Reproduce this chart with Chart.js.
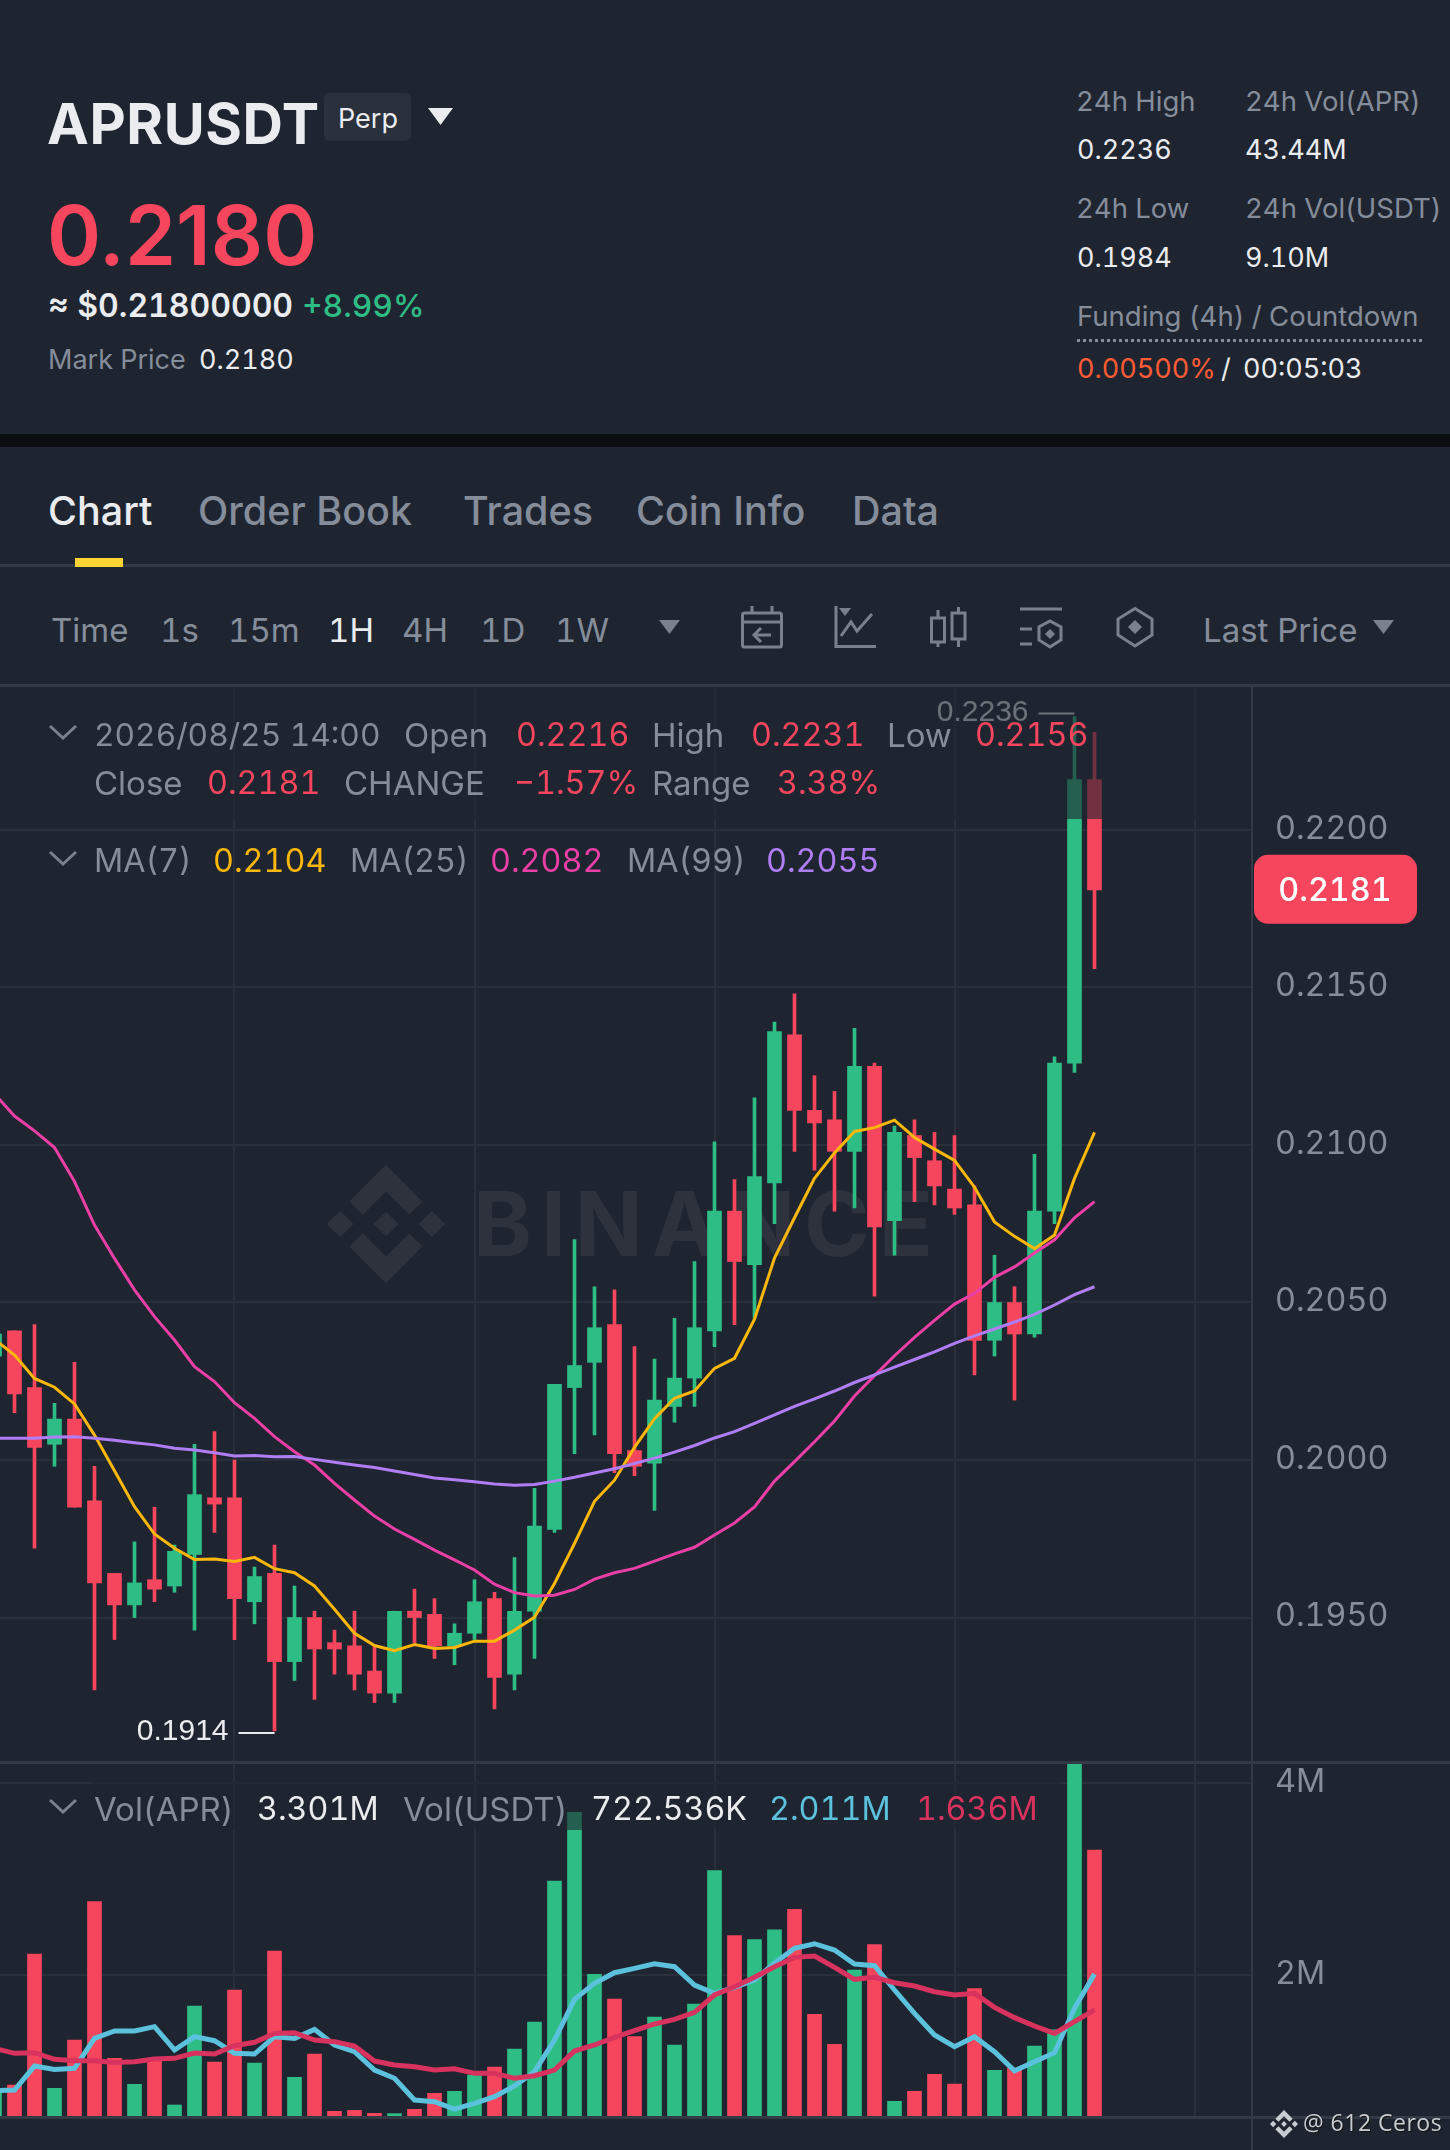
<!DOCTYPE html>
<html>
<head>
<meta charset="utf-8">
<title>APRUSDT</title>
<script src="https://cdn.jsdelivr.net/npm/chart.js@4/dist/chart.umd.min.js"></script>
<style>
  html, body { margin: 0; padding: 0; background: #1f2530; }
  body { position: relative; width: 1450px; height: 2150px; overflow: hidden; font-family: Inter, sans-serif; font-variant-numeric: tabular-nums; }
  .t { position: absolute; white-space: nowrap; line-height: 1; }
  .s28 { font-size: 27.5px; }
  .v27 { font-size: 27px; }
  .s32 { font-size: 33px; }
  .s38 { font-size: 39.5px; font-weight: 500; }
  .n { font-size: 32.3px; }
  .gray { color: #858d9b; }
  .white { color: #eaecef; }
  .red { color: #f6465d; }
  .green { color: #2ebd85; }
  .line { position: absolute; background: #333a46; }
  canvas { position: absolute; left: 0; }
  svg { position: absolute; overflow: visible; }
  .veil { position: absolute; background: rgba(31, 37, 48, 0.62); }
  .ic { fill: none; stroke: #79818f; stroke-width: 3; }
</style>
</head>
<body>

<!-- header -->
<div class="t white" style="left:47px;top:96px;font-size:56px;font-weight:700;letter-spacing:0.6px">APRUSDT</div>
<div style="position:absolute;left:324px;top:93px;width:87px;height:48px;background:#2a303c;border-radius:6px"></div>
<div class="t white" style="left:338px;top:105px;font-size:27px">Perp</div>
<svg style="left:428px;top:108px" width="26" height="18"><path d="M0 0H25L12.5 17Z" fill="#eaecef"/></svg>
<div class="t red" style="left:47px;top:195px;font-size:82px;font-weight:600;font-variant-numeric:normal">0.2180</div>
<div class="t white" style="left:48px;top:290px;font-size:32px;font-weight:600">≈ $0.21800000</div>
<div class="t green" style="left:302px;top:290px;font-size:31.8px;font-weight:500">+8.99%</div>
<div class="t gray" style="left:48px;top:346px;font-size:27px">Mark Price</div>
<div class="t v27 white" style="left:199px;top:346px">0.2180</div>

<div class="t s28 gray" style="left:1076px;top:88px">24h High</div>
<div class="t s28 gray" style="left:1245px;top:88px">24h Vol(APR)</div>
<div class="t v27 white" style="left:1077px;top:136px">0.2236</div>
<div class="t v27 white" style="left:1245px;top:136px">43.44M</div>
<div class="t s28 gray" style="left:1076px;top:195px">24h Low</div>
<div class="t s28 gray" style="left:1245px;top:195px">24h Vol(USDT)</div>
<div class="t v27 white" style="left:1077px;top:244px">0.1984</div>
<div class="t v27 white" style="left:1245px;top:244px">9.10M</div>
<div class="t s28 gray" style="left:1077px;top:303px">Funding (4h) / Countdown</div>
<div style="position:absolute;left:1077px;top:339px;width:345px;border-top:3px dotted #858d9b"></div>
<div class="t v27" style="left:1077px;top:355px;color:#ff5c36">0.00500%</div>
<div class="t v27 white" style="left:1221px;top:355px">/</div>
<div class="t v27 white" style="left:1243px;top:355px">00:05:03</div>

<div style="position:absolute;left:0;top:434px;width:1450px;height:13px;background:#0b0e11"></div>

<!-- tabs -->
<div class="t s38 white" style="left:48px;top:492px">Chart</div>
<div class="t s38 gray" style="left:198px;top:492px">Order Book</div>
<div class="t s38 gray" style="left:463px;top:492px">Trades</div>
<div class="t s38 gray" style="left:636px;top:492px">Coin Info</div>
<div class="t s38 gray" style="left:852px;top:492px">Data</div>
<div class="line" style="left:0;top:564px;width:1450px;height:3px"></div>
<div style="position:absolute;left:75px;top:558px;width:48px;height:9px;background:#fcd535"></div>

<!-- interval row -->
<div class="t s32 gray" style="left:51px;top:614px">Time</div>
<div class="t s32 gray" style="left:160px;top:614px">1s</div>
<div class="t s32 gray" style="left:228px;top:614px">15m</div>
<div class="t s32 white" style="left:328px;top:614px">1H</div>
<div class="t s32 gray" style="left:402px;top:614px">4H</div>
<div class="t s32 gray" style="left:480px;top:614px">1D</div>
<div class="t s32 gray" style="left:555px;top:614px">1W</div>
<svg style="left:659px;top:620px" width="22" height="15"><path d="M0 0H21L10.5 14Z" fill="#79818f"/></svg>
<svg class="ic" style="left:741px;top:606px" width="42" height="42"><rect x="1.5" y="7" width="39" height="34" rx="2"/><path d="M1.5 16H40.5M11 0V7M31 0V7M30 29H14M20 22L13 29L20 36"/></svg>
<svg class="ic" style="left:834px;top:606px" width="42" height="42"><path d="M2 0V40.5H42M7 30L17 16L23 25L38 8"/><path d="M5 2H17L11 10Z" fill="#79818f" stroke="none"/></svg>
<svg class="ic" style="left:930px;top:607px" width="38" height="40"><rect x="1.5" y="11" width="13" height="24"/><rect x="22" y="6" width="13" height="26"/><path d="M8 3V11M8 35V40M28.5 0V6M28.5 32V40"/></svg>
<svg class="ic" style="left:1020px;top:607px" width="42" height="42"><path d="M0 2H42M0 22H12M0 37H12M30 14L41 20V33L30 40L19 33V20Z"/><path d="M30 22L35 27L30 32L25 27Z" fill="#79818f" stroke="none"/></svg>
<svg class="ic" style="left:1116px;top:607px" width="38" height="40"><path d="M19 1.5L36 12V28L19 39L2 28V12Z"/><path d="M19 13L26 20L19 27L12 20Z" fill="#79818f" stroke="none"/></svg>
<div class="t s32 gray" style="left:1203px;top:614px">Last Price</div>
<svg style="left:1373px;top:620px" width="22" height="15"><path d="M0 0H21L10.5 14Z" fill="#79818f"/></svg>
<div class="line" style="left:0;top:684px;width:1450px;height:3px"></div>

<!-- watermark, behind the candles -->
<svg style="left:327px;top:1165px" width="118" height="118" viewBox="0 0 24 24"><path fill="#2e323d" d="M12 9.5L14.5 12L12 14.5L9.5 12ZM7.3 10.1L12 5.4L16.7 10.1L19.4 7.4L12 0L4.6 7.4ZM7.3 13.9L12 18.6L16.7 13.9L19.4 16.6L12 24L4.6 16.6ZM2.7 9.3L5.4 12L2.7 14.7L0 12ZM21.3 9.3L24 12L21.3 14.7L18.6 12Z"/></svg>
<div class="t" style="left:473px;top:1179px;font-size:89px;font-weight:700;letter-spacing:9px;color:#2e323d">BINANCE</div>

<canvas id="priceChart" width="1450" height="1076" style="top:686px"></canvas>
<canvas id="volChart" width="1450" height="362" style="top:1755px"></canvas>

<div class="line" style="left:0;top:1761px;width:1450px;height:3px"></div>
<div class="line" style="left:0;top:2116px;width:1450px;height:3px"></div>
<div class="line" style="left:1251px;top:686px;width:2px;height:1464px"></div>

<!-- legend over the price pane -->
<div class="veil" style="left:0;top:687px;width:1251px;height:132px"></div>
<svg style="left:49px;top:725px" width="28" height="15"><path d="M1 1L14 13L27 1" fill="none" stroke="#79818f" stroke-width="3"/></svg>
<div class="t gray" style="left:94px;top:719px;font-size:31.7px">2026/08/25 14:00</div>
<div class="t s32 gray" style="left:404px;top:719px">Open</div>
<div class="t n red" style="left:516px;top:719px">0.2216</div>
<div class="t s32 gray" style="left:652px;top:719px">High</div>
<div class="t n red" style="left:751px;top:719px">0.2231</div>
<div class="t s32 gray" style="left:887px;top:719px">Low</div>
<div class="t n red" style="left:975px;top:719px">0.2156</div>
<div class="t s32 gray" style="left:94px;top:767px">Close</div>
<div class="t n red" style="left:207px;top:767px">0.2181</div>
<div class="t s32 gray" style="left:344px;top:767px">CHANGE</div>
<div class="t n red" style="left:514px;top:767px">−1.57%</div>
<div class="t s32 gray" style="left:652px;top:767px">Range</div>
<div class="t n red" style="left:777px;top:767px">3.38%</div>
<svg style="left:49px;top:851px" width="28" height="15"><path d="M1 1L14 13L27 1" fill="none" stroke="#79818f" stroke-width="3"/></svg>
<div class="t n gray" style="left:94px;top:845px">MA(7)</div>
<div class="t n" style="left:213px;top:845px;color:#fcb70b">0.2104</div>
<div class="t n gray" style="left:350px;top:845px">MA(25)</div>
<div class="t n" style="left:490px;top:845px;color:#e93fa6">0.2082</div>
<div class="t n gray" style="left:627px;top:845px">MA(99)</div>
<div class="t n" style="left:766px;top:845px;color:#b07df5">0.2055</div>

<!-- legend over the volume pane -->
<div class="veil" style="left:92px;top:1782px;width:968px;height:48px"></div>
<svg style="left:49px;top:1799px" width="28" height="15"><path d="M1 1L14 13L27 1" fill="none" stroke="#79818f" stroke-width="3"/></svg>
<div class="t s32 gray" style="left:94px;top:1793px">Vol(APR)</div>
<div class="t n white" style="left:257px;top:1793px">3.301M</div>
<div class="t s32 gray" style="left:403px;top:1793px">Vol(USDT)</div>
<div class="t n white" style="left:591px;top:1793px">722.536K</div>
<div class="t n" style="left:769px;top:1793px;color:#5bc1dc">2.011M</div>
<div class="t n" style="left:916px;top:1793px;color:#d8335e">1.636M</div>

<!-- corner tag -->
<svg style="left:1270px;top:2110px" width="28" height="28" viewBox="0 0 24 24"><path fill="#c9cdd3" d="M12 9.5L14.5 12L12 14.5L9.5 12ZM7.3 10.1L12 5.4L16.7 10.1L19.4 7.4L12 0L4.6 7.4ZM7.3 13.9L12 18.6L16.7 13.9L19.4 16.6L12 24L4.6 16.6ZM2.7 9.3L5.4 12L2.7 14.7L0 12ZM21.3 9.3L24 12L21.3 14.7L18.6 12Z"/></svg>
<div class="t" style="left:1303px;top:2111px;font-family:'Open Sans',sans-serif;font-size:23px;letter-spacing:0.5px;color:#c9cdd3;text-shadow:1px 1px 1px #111">@ 612 Ceros</div>

<script>
const candleIndex = [0,1,2,3,4,5,6,7,8,9,10,11,12,13,14,15,16,17,18,19,20,21,22,23,24,25,26,27,
  28,29,30,31,32,33,34,35,36,37,38,39,40,41,42,43,44,45,46,47,48,49,50,51,52,53,54,55];
const candleOpen = [.2033,.2041,.2023,.2005,.2013,.1987,.1964,.1954,.1962,.1960,.1970,.1988,.1988,.1955,
  .1964,.1936,.1950,.1942,.1941,.1933,.1926,.1952,.1951,.1941,.1945,.1956,.1932,.1952,
  .1978,.2023,.2031,.2043,.2003,.1999,.2017,.2026,.2041,.2079,.2062,.2088,.2135,.2111,
  .2108,.2098,.2125,.2076,.2103,.2095,.2086,.2081,.2038,.2050,.2040,.2079,.2126,.2216];
const candleHigh = [.2041,.2041,.2043,.2018,.2031,.1998,.1964,.1974,.1985,.1973,.2005,.2009,.2000,.1966,
  .1973,.1960,.1952,.1946,.1952,.1941,.1952,.1959,.1956,.1948,.1962,.1958,.1969,.1991,
  .2024,.2070,.2055,.2054,.2036,.2032,.2045,.2063,.2101,.2089,.2115,.2139,.2148,.2122,
  .2117,.2137,.2126,.2106,.2108,.2104,.2103,.2087,.2065,.2055,.2097,.2128,.2236,.2231];
const candleLow = [.2030,.2015,.1972,.1998,.1985,.1927,.1943,.1950,.1955,.1958,.1946,.1977,.1943,.1948,
  .1914,.1930,.1924,.1932,.1927,.1923,.1923,.1942,.1937,.1935,.1943,.1921,.1927,.1937,
  .1977,.2002,.2008,.1996,.1995,.1984,.2012,.2017,.2036,.2043,.2045,.2075,.2098,.2092,
  .2079,.2080,.2052,.2065,.2082,.2081,.2078,.2027,.2033,.2019,.2039,.2075,.2123,.2156];
const candleClose = [.2040,.2021,.2004,.2013,.1985,.1961,.1954,.1961,.1959,.1971,.1989,.1986,.1956,.1963,
  .1936,.1950,.1940,.1940,.1932,.1926,.1952,.1950,.1941,.1945,.1955,.1931,.1952,.1979,
  .2024,.2030,.2042,.2002,.1998,.2019,.2026,.2042,.2079,.2063,.2090,.2136,.2111,.2107,
  .2098,.2125,.2074,.2104,.2096,.2087,.2080,.2038,.2050,.2040,.2079,.2126,.2216,.2181];

const ma7 = [.20383,.20333,.20259,.20231,.20178,.20079,.19966,.19852,.19765,.19720,.19684,.19686,.19678,.19691,
  .19655,.19642,.19600,.19526,.19450,.19411,.19395,.19414,.19402,.19405,.19425,.19425,.19460,.19501,
  .19608,.19735,.19869,.19936,.20040,.20131,.20196,.20219,.20291,.20323,.20447,.20641,.20769,.20894,
  .20975,.21043,.21055,.21079,.21024,.20987,.20951,.20866,.20756,.20710,.20671,.20714,.20894,.21040];
const ma25 = [.21162,.21092,.21045,.20992,.20884,.20746,.20640,.20540,.20455,.20381,.20296,.20249,.20182,.20132,
  .20074,.20026,.19984,.19926,.19873,.19822,.19781,.19748,.19714,.19683,.19651,.19606,.19579,.19568,
  .19571,.19589,.19622,.19642,.19656,.19679,.19702,.19723,.19762,.19800,.19851,.19933,.19995,.20058,
  .20124,.20203,.20268,.20331,.20389,.20443,.20495,.20529,.20580,.20613,.20657,.20699,.20769,.20820];
const ma99 = [.20069,.20069,.20069,.20073,.20074,.20069,.20063,.20055,.20048,.20037,.20032,.20023,.20013,.20014,
  .20010,.20011,.20002,.19993,.19984,.19976,.19965,.19954,.19943,.19937,.19931,.19924,.19920,.19922,
  .19933,.19945,.19959,.19972,.19989,.20006,.20025,.20046,.20070,.20090,.20116,.20143,.20170,.20194,
  .20219,.20246,.20270,.20295,.20319,.20343,.20370,.20394,.20416,.20438,.20462,.20492,.20525,.20550];

// volume in millions
const volume = [.77,.854,2.219,.819,1.323,2.764,1.132,.861,1.132,.646,1.677,1.094,1.844,1.083,
  2.25,.934,1.177,.58,.59,.559,.556,.601,.767,.788,.958,1.042,1.229,1.51,
  2.979,3.694,2.007,1.75,1.358,1.563,1.271,1.698,3.087,2.41,2.368,2.472,2.684,1.59,
  1.278,2.052,2.316,.684,.788,.965,.865,1.858,1.007,1.03,1.26,1.43,4.22,3.301];
const volMaShort = [.795,.802,1.052,1.017,1.028,1.34,1.417,1.417,1.462,1.219,1.358,1.316,1.184,1.177,
  1.358,1.34,1.434,1.271,1.201,1.01,.924,.698,.68,.604,.663,.733,.844,.993,
  1.323,1.747,1.913,2.024,2.069,2.118,2.087,1.896,1.809,1.872,1.948,2.122,2.278,2.326,
  2.26,2.115,2.097,1.844,1.601,1.375,1.253,1.358,1.201,1.003,1.097,1.191,1.653,2.011];
const volMaLong = [1.236,1.184,1.191,1.122,1.108,1.108,1.09,1.097,1.125,1.132,1.188,1.177,1.264,1.299,
  1.392,1.399,1.323,1.306,1.26,1.104,1.063,1.045,1.01,1.024,.976,.976,.924,.951,
  1.01,1.208,1.271,1.351,1.42,1.49,1.538,1.611,1.792,1.878,1.976,2.087,2.184,2.198,
  2.08,1.955,1.976,1.92,1.885,1.826,1.792,1.809,1.663,1.556,1.469,1.392,1.514,1.636];

const priceTicks = [0.195, 0.2, 0.205, 0.21, 0.215, 0.22];
const volTicks = [2, 4];
const timeGrid = [12, 24, 36, 48, 60];
const lastPrice = 0.2181;
const highMark = { i: 54, value: 0.2236, dash: -3, label: -4 };
const lowMark = { i: 14, value: 0.1914, dash: 2, label: 1 };

const UP = "#2ebd85";
const DOWN = "#f6465d";
const GRID = "#2a303b";
const TICK_COLOR = "#858d9b";
const candleColors = candleClose.map((c, i) => (c >= candleOpen[i] ? UP : DOWN));

const series = (values) => candleIndex.map((i) => ({ x: i, y: values[i] }));
const band = (a, b) => candleIndex.map((i) => ({ x: i, y: [a[i], b[i]] }));
const lineSet = (values, color, width) => ({
  type: "line", data: series(values), borderColor: color, borderWidth: width,
  pointRadius: 0, tension: 0, order: 0,
});

// the same x axis for both panes, 20px a candle
const xAxis = () => ({
  type: "linear", min: 0.275, max: 62.875, offset: false,
  grid: { color: GRID, lineWidth: 2, drawTicks: false, offset: false },
  border: { display: false },
  ticks: { display: false },
  afterBuildTicks: (s) => { s.ticks = timeGrid.map((v) => ({ value: v })); },
  afterFit: (s) => { s.height = 0; s.paddingLeft = 0; s.paddingRight = 0; },
});
const yAxis = (min, max, list, fmt) => ({
  position: "right", min, max, beginAtZero: false,
  grid: { color: GRID, lineWidth: 2, drawTicks: false },
  border: { display: false },
  ticks: { color: TICK_COLOR, padding: 23, labelOffset: -1, font: { family: "Inter", size: 32.3 }, callback: fmt, autoSkip: false },
  afterBuildTicks: (s) => { s.ticks = list.map((v) => ({ value: v })); },
  afterFit: (s) => { s.width = 198; s.paddingTop = 0; s.paddingBottom = 0; },
});

const priceMarks = {
  id: "priceMarks",
  afterDatasetsDraw(chart) {
    const { ctx, scales: { x, y } } = chart;
    ctx.save();
    for (const m of [highMark, lowMark]) {
      const px = x.getPixelForValue(m.i);
      const py = y.getPixelForValue(m.value);
      ctx.strokeStyle = "#eaecef";
      ctx.lineWidth = 2;
      ctx.beginPath();
      ctx.moveTo(px - 36, py + m.dash);
      ctx.lineTo(px, py + m.dash);
      ctx.stroke();
      ctx.fillStyle = "#eaecef";
      ctx.font = "30px 'Liberation Sans'";
      ctx.textAlign = "right";
      ctx.textBaseline = "middle";
      ctx.fillText(m.value.toFixed(4), px - 46, py + m.label);
    }
    const by = y.getPixelForValue(lastPrice);
    ctx.fillStyle = DOWN;
    ctx.beginPath();
    ctx.roundRect(1254, by - 35, 163, 69, 14);
    ctx.fill();
    ctx.fillStyle = "#fff";
    ctx.font = "500 32.3px Inter";
    ctx.textAlign = "center";
    ctx.fillText(lastPrice.toFixed(4), 1335, by + 1.5);
    ctx.restore();
  },
};

new Chart(document.getElementById("priceChart"), {
  type: "bar",
  data: {
    datasets: [
      lineSet(ma99, "#b07df5", 3),
      lineSet(ma25, "#e93fa6", 3),
      lineSet(ma7, "#fcb70b", 3),
      { data: band(candleOpen, candleClose), backgroundColor: candleColors, barThickness: 14, grouped: false, order: 1 },
      { data: band(candleLow, candleHigh), backgroundColor: candleColors, barThickness: 3, grouped: false, order: 2 },
    ],
  },
  options: {
    responsive: false,
    animation: false,
    devicePixelRatio: 1,
    layout: { padding: 0 },
    plugins: { legend: { display: false }, tooltip: { enabled: false } },
    scales: {
      x: xAxis(),
      y: yAxis(0.190413, 0.224571, priceTicks, (v) => v.toFixed(4)),
    },
  },
  plugins: [priceMarks],
});

new Chart(document.getElementById("volChart"), {
  type: "bar",
  data: {
    datasets: [
      lineSet(volMaLong, "#d8335e", 5),
      lineSet(volMaShort, "#5bc1dc", 5),
      { data: series(volume), backgroundColor: candleColors, barThickness: 14, grouped: false, order: 1 },
    ],
  },
  options: {
    responsive: false,
    animation: false,
    devicePixelRatio: 1,
    layout: { padding: 0 },
    plugins: { legend: { display: false }, tooltip: { enabled: false } },
    scales: {
      x: xAxis(),
      y: yAxis(0.521, 4.292, volTicks, (v) => v + "M"),
    },
  },
});
</script>
</body>
</html>
